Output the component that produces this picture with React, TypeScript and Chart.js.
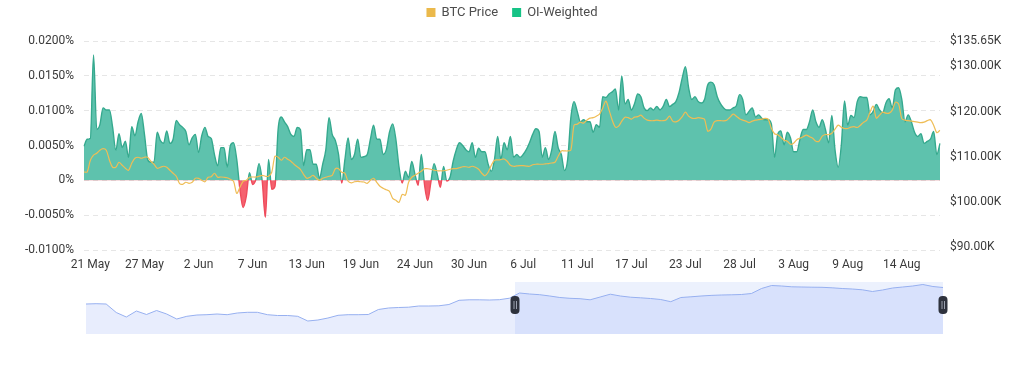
import React, { useEffect, useRef } from 'react';
import { Chart, registerables } from 'chart.js';

Chart.register(...registerables);

// ---------- data ----------
const START_UTC = Date.UTC(2025, 4, 21, 0, 0); // 21 May, 8-hour steps
const STEP_HOURS = 8;
const MONTHS = ['Jan', 'Feb', 'Mar', 'Apr', 'May', 'Jun', 'Jul', 'Aug', 'Sep', 'Oct', 'Nov', 'Dec'];

const TICK_LABELS = ['21 May', '27 May', '2 Jun', '7 Jun', '13 Jun', '19 Jun', '24 Jun', '30 Jun', '6 Jul', '11 Jul', '17 Jul', '23 Jul', '28 Jul', '3 Aug', '9 Aug', '14 Aug'];
const TICK_FIRST = 2;
const TICK_EVERY = 17;

// OI-weighted funding rate, in %
const OI_WEIGHTED = [
  0.0049, 0.0059, 0.0060, 0.0180, 0.0073, 0.0080, 0.0104, 0.0101, 0.0101, 0.0076,
  0.0043, 0.0067, 0.0047, 0.0056, 0.0033, 0.0077, 0.0064, 0.0084, 0.0096, 0.0066,
  0.0030, 0.0026, 0.0026, 0.0069, 0.0057, 0.0053, 0.0071, 0.0053, 0.0059, 0.0086,
  0.0080, 0.0076, 0.0070, 0.0051, 0.0061, 0.0066, 0.0040, 0.0064, 0.0076, 0.0063,
  0.0060, 0.0037, 0.0021, 0.0047, 0.0047, 0.0019, 0.0050, 0.0054, 0.0030, -0.0013,
  -0.0039, -0.0023, 0.0011, -0.0006, 0.0001, 0.0024, -0.0001, -0.0053, 0.0030, -0.0013,
  -0.0009, 0.0073, 0.0091, 0.0084, 0.0077, 0.0066, 0.0063, 0.0076, 0.0073, 0.0021,
  0.0044, 0.0044, 0.0023, 0.0023, 0.0003, 0.0023, 0.0044, 0.0090, 0.0066, 0.0057,
  0.0037, -0.0004, 0.0030, 0.0061, 0.0030, 0.0037, 0.0059, 0.0033, 0.0034, 0.0037,
  0.0059, 0.0079, 0.0059, 0.0059, 0.0037, 0.0044, 0.0069, 0.0081, 0.0059, 0.0019,
  -0.0004, 0.0013, 0.0004, 0.0027, 0.0009, -0.0007, 0.0037, -0.0006, -0.0029, -0.0003,
  0.0024, 0.0009, -0.0010, 0.0020, -0.0001, 0.0004, 0.0027, 0.0044, 0.0054, 0.0050,
  0.0044, 0.0041, 0.0054, 0.0033, 0.0046, 0.0041, 0.0041, 0.0023, 0.0013, 0.0030,
  0.0063, 0.0030, 0.0054, 0.0044, 0.0063, 0.0033, 0.0037, 0.0033, 0.0037, 0.0044,
  0.0054, 0.0066, 0.0074, 0.0070, 0.0033, 0.0047, 0.0030, 0.0044, 0.0070, 0.0047,
  0.0037, 0.0014, 0.0030, 0.0090, 0.0113, 0.0099, 0.0084, 0.0087, 0.0084, 0.0084,
  0.0069, 0.0080, 0.0076, 0.0120, 0.0119, 0.0124, 0.0127, 0.0131, 0.0101, 0.0150,
  0.0109, 0.0116, 0.0101, 0.0110, 0.0124, 0.0120, 0.0104, 0.0100, 0.0104, 0.0101,
  0.0106, 0.0101, 0.0106, 0.0116, 0.0106, 0.0109, 0.0113, 0.0126, 0.0147, 0.0163,
  0.0133, 0.0116, 0.0120, 0.0113, 0.0111, 0.0116, 0.0137, 0.0141, 0.0137, 0.0120,
  0.0110, 0.0104, 0.0101, 0.0101, 0.0104, 0.0107, 0.0123, 0.0116, 0.0094, 0.0099,
  0.0104, 0.0091, 0.0094, 0.0089, 0.0087, 0.0087, 0.0081, 0.0033, 0.0066, 0.0071,
  0.0051, 0.0069, 0.0061, 0.0041, 0.0041, 0.0059, 0.0073, 0.0073, 0.0084, 0.0101,
  0.0084, 0.0076, 0.0087, 0.0073, 0.0054, 0.0093, 0.0044, 0.0019, 0.0051, 0.0114,
  0.0079, 0.0093, 0.0090, 0.0113, 0.0120, 0.0119, 0.0119, 0.0094, 0.0099, 0.0109,
  0.0101, 0.0097, 0.0111, 0.0117, 0.0104, 0.0130, 0.0133, 0.0116, 0.0084, 0.0094,
  0.0084, 0.0069, 0.0063, 0.0067, 0.0053, 0.0056, 0.0059, 0.0070, 0.0037, 0.0053,
];

// BTC price, in thousands of USD
const BTC_PRICE = [
  106.60, 106.60, 109.20, 110.32, 110.76, 111.43, 111.76, 111.43, 109.20, 107.65,
  107.65, 108.76, 108.09, 107.43, 106.98, 108.54, 109.65, 109.87, 109.65, 109.87,
  109.87, 108.98, 108.32, 107.43, 107.65, 107.87, 107.65, 106.98, 106.32, 105.65,
  104.09, 103.87, 104.32, 104.09, 104.32, 105.20, 105.20, 104.76, 104.43, 105.43,
  105.54, 106.32, 105.43, 105.49, 105.43, 105.32, 104.98, 104.54, 101.87, 103.20,
  104.54, 104.76, 105.43, 105.49, 105.49, 105.65, 105.87, 105.65, 105.65, 106.54,
  110.09, 109.87, 109.20, 109.87, 109.43, 108.98, 108.32, 107.76, 107.20, 106.09,
  105.20, 105.43, 105.87, 105.20, 104.76, 105.20, 105.43, 105.65, 105.87, 107.32,
  107.32, 106.54, 106.32, 104.54, 104.20, 104.43, 104.54, 104.43, 104.38, 104.09,
  104.76, 105.20, 104.32, 103.43, 102.98, 102.65, 102.32, 100.76, 100.32, 99.87,
  101.65, 101.43, 104.32, 105.43, 105.87, 106.32, 106.76, 107.32, 107.32, 107.20,
  106.98, 106.87, 106.87, 106.87, 106.98, 107.20, 107.36, 107.36, 107.54, 107.76,
  107.76, 107.65, 107.87, 107.65, 107.20, 106.32, 105.76, 106.54, 108.09, 109.20,
  109.27, 109.36, 109.49, 108.98, 108.09, 107.87, 107.94, 108.00, 108.00, 107.92,
  107.87, 108.20, 108.32, 108.32, 108.32, 108.40, 108.47, 108.60, 108.76, 110.09,
  111.27, 111.27, 111.27, 111.43, 116.98, 117.20, 117.65, 117.43, 118.09, 118.54,
  118.65, 118.98, 119.43, 120.76, 122.32, 120.32, 118.09, 116.54, 116.76, 117.87,
  118.76, 118.65, 118.32, 118.76, 118.87, 119.20, 118.54, 118.09, 117.98, 117.98,
  118.09, 117.98, 117.98, 118.20, 118.98, 117.87, 117.72, 118.09, 118.87, 119.87,
  118.98, 118.54, 118.47, 118.65, 118.54, 118.32, 115.65, 116.09, 117.65, 117.98,
  117.98, 117.94, 118.09, 118.76, 119.43, 118.98, 118.43, 118.09, 117.87, 117.54,
  117.87, 118.09, 118.20, 118.32, 118.47, 118.32, 116.32, 115.09, 114.87, 114.32,
  113.65, 113.43, 112.76, 112.98, 113.76, 114.09, 114.43, 114.76, 114.43, 114.09,
  113.43, 113.43, 114.54, 114.92, 114.87, 115.20, 116.09, 116.98, 116.54, 116.25,
  116.25, 116.54, 116.65, 116.47, 116.98, 117.65, 118.09, 119.87, 121.20, 118.54,
  119.20, 119.87, 119.65, 119.65, 120.32, 122.09, 121.65, 118.43, 118.09, 117.98,
  117.87, 117.76, 117.65, 117.54, 117.65, 117.98, 118.20, 116.98, 115.32, 115.87,
];

const LEFT_MIN = -0.01;
const LEFT_MAX = 0.02;
const LEFT_STEP = 0.005;
const RIGHT_TICKS = [90, 100, 110, 120, 130, 135.65];
const RIGHT_MIN = 89.3;
const RIGHT_MAX = 135.65;

// navigator (overview) price, in thousands of USD
const NAV_PRICE = [
  108.0, 108.15, 108.0, 103.75, 101.5, 104.5, 102.75, 104.75, 103.0, 100.5,
  101.85, 102.5, 102.65, 103.0, 102.65, 103.5, 103.85, 103.85, 102.65, 102.25,
  102.25, 101.85, 99.5, 100.0, 101.0, 102.35, 102.65, 102.65, 102.75, 105.25,
  106.0, 106.25, 106.4, 107.0, 107.0, 107.1, 107.75, 109.85, 110.1, 110.1,
  110.0, 110.15, 110.9, 113.5, 113.0, 112.65, 112.0, 111.25, 110.85, 110.65,
  110.1, 111.5, 112.9, 112.0, 111.4, 111.1, 110.75, 110.25, 109.15, 111.25,
  111.6, 112.0, 112.3, 112.5, 112.6, 112.75, 113.25, 115.75, 117.25, 117.0,
  116.6, 116.5, 116.4, 116.35, 116.1, 115.75, 115.5, 115.1, 114.25, 115.0,
  116.0, 116.5, 117.0, 117.75, 116.75, 116.25,
];
const NAV_MIN = 93;
const NAV_MAX = 119;
const NAV_WINDOW = [42.55, 85];

// ---------- styles ----------
const FONT = 'Roboto, "Noto Sans", sans-serif';
const TEXT = '#3a3a3a';
const GRID = '#e6e6e6';
const GREEN_LINE = '#35a98e';
const GREEN_FILL = '#5ec2ad';
const RED_LINE = '#ef4b5c';
const RED_FILL = '#f5626f';
const YELLOW = '#efbd55';
const LEGEND_YELLOW = '#ebb94b';
const LEGEND_GREEN = '#16c386';

const CATEGORIES = OI_WEIGHTED.map((_, i) => {
  const d = new Date(START_UTC + i * STEP_HOURS * 3600 * 1000);
  return `${d.getUTCDate()} ${MONTHS[d.getUTCMonth()]} ${String(d.getUTCHours()).padStart(2, '0')}:00`;
});
const NAV_CATEGORIES = NAV_PRICE.map((_, i) => String(i));

function signedStroke(c: any) {
  const chart = c.chart;
  const ca = chart.chartArea;
  const ys = chart.scales && chart.scales.y;
  if (!ca || !ys) return GREEN_LINE;
  const y0 = ys.getPixelForValue(0);
  const f = Math.min(1, Math.max(0, (y0 - ca.top) / (ca.bottom - ca.top)));
  const g = chart.ctx.createLinearGradient(0, ca.top, 0, ca.bottom);
  g.addColorStop(0, GREEN_LINE);
  g.addColorStop(f, GREEN_LINE);
  g.addColorStop(f, RED_LINE);
  g.addColorStop(1, RED_LINE);
  return g;
}

const legendPlugin = {
  id: 'customLegend',
  afterDraw(chart: any) {
    const ctx = chart.ctx;
    const items = [
      { text: 'BTC Price', color: LEGEND_YELLOW },
      { text: 'OI-Weighted', color: LEGEND_GREEN },
    ];
    ctx.save();
    ctx.font = `13px ${FONT}`;
    const box = 9;
    const gap = 6;
    const spacing = 14;
    const widths = items.map((it) => ctx.measureText(it.text).width);
    const total = widths.reduce((a, w) => a + box + gap + w, 0) + spacing * (items.length - 1);
    let x = chart.width / 2 - total / 2;
    const cy = 12.5;
    items.forEach((it, k) => {
      ctx.fillStyle = it.color;
      ctx.fillRect(x, cy - box / 2, box, box);
      x += box + gap;
      ctx.fillStyle = '#4d4d4d';
      ctx.textBaseline = 'middle';
      ctx.textAlign = 'left';
      ctx.fillText(it.text, x, cy + 0.5);
      x += widths[k] + spacing;
    });
    ctx.restore();
  },
};

const navPlugin = {
  id: 'navWindow',
  beforeDatasetsDraw(chart: any) {
    const { ctx, chartArea } = chart;
    const xs = chart.scales.x;
    const x0 = xs.getPixelForValue(NAV_WINDOW[0]);
    const x1 = xs.getPixelForValue(NAV_WINDOW[1]);
    ctx.save();
    ctx.fillStyle = 'rgba(110,145,240,0.13)';
    ctx.fillRect(x0, chartArea.top, x1 - x0, chartArea.bottom - chartArea.top);
    ctx.restore();
  },
  afterDraw(chart: any) {
    const { ctx, chartArea } = chart;
    const xs = chart.scales.x;
    const cy = (chartArea.top + chartArea.bottom) / 2 - 3;
    NAV_WINDOW.forEach((v) => {
      const cx = xs.getPixelForValue(v);
      const w = 9;
      const h = 18;
      ctx.save();
      ctx.fillStyle = '#2e323d';
      ctx.beginPath();
      (ctx as any).roundRect(cx - w / 2, cy - h / 2, w, h, 4);
      ctx.fill();
      ctx.strokeStyle = '#9aa0ad';
      ctx.lineWidth = 1;
      ctx.beginPath();
      ctx.moveTo(cx - 1, cy - 4);
      ctx.lineTo(cx - 1, cy + 4);
      ctx.moveTo(cx + 1.5, cy - 4);
      ctx.lineTo(cx + 1.5, cy + 4);
      ctx.stroke();
      ctx.restore();
    });
  },
};

export default function App() {
  const mainRef = useRef<HTMLCanvasElement | null>(null);
  const navRef = useRef<HTMLCanvasElement | null>(null);

  useEffect(() => {
    Chart.defaults.font.family = FONT;
    Chart.defaults.color = TEXT;

    const main = new Chart(mainRef.current as HTMLCanvasElement, {
      type: 'line',
      data: {
        labels: CATEGORIES,
        datasets: [
          {
            label: 'BTC Price',
            data: BTC_PRICE,
            yAxisID: 'y1',
            borderColor: YELLOW,
            borderWidth: 1.2,
            pointRadius: 0,
            fill: false,
            tension: 0.3,
            order: 0,
          },
          {
            label: 'OI-Weighted',
            data: OI_WEIGHTED,
            yAxisID: 'y',
            borderColor: signedStroke,
            borderWidth: 1.4,
            pointRadius: 0,
            cubicInterpolationMode: 'monotone',
            fill: { target: 'origin', above: GREEN_FILL, below: RED_FILL },
            order: 1,
          },
        ],
      },
      options: {
        animation: false,
        responsive: false,
        maintainAspectRatio: false,
        layout: { padding: { top: 41, bottom: 0, left: 0, right: 0 } },
        plugins: { legend: { display: false }, tooltip: { enabled: false } },
        scales: {
          x: {
            type: 'category',
            grid: { display: false, drawTicks: false },
            border: { display: false },
            ticks: {
              autoSkip: false,
              maxRotation: 0,
              minRotation: 0,
              padding: 8,
              color: TEXT,
              font: { size: 12 },
              callback: (_v: any, index: number) => {
                const k = index - TICK_FIRST;
                if (k >= 0 && k % TICK_EVERY === 0 && k / TICK_EVERY < TICK_LABELS.length) {
                  return TICK_LABELS[k / TICK_EVERY];
                }
                return null;
              },
            },
            afterFit: (s: any) => {
              s.height = 30;
            },
          },
          y: {
            position: 'left',
            min: LEFT_MIN,
            max: LEFT_MAX,
            grid: { color: GRID, drawTicks: false },
            border: { display: false, dash: [5, 4] },
            ticks: {
              stepSize: LEFT_STEP,
              padding: 10,
              color: TEXT,
              font: { size: 12 },
              callback: (v: any) => (Math.abs(v) < 1e-9 ? '0%' : Number(v).toFixed(4) + '%'),
            },
            afterFit: (s: any) => {
              s.width = 84;
            },
          },
          y1: {
            position: 'right',
            min: RIGHT_MIN,
            max: RIGHT_MAX,
            grid: { display: false, drawTicks: false },
            border: { display: false },
            afterBuildTicks: (s: any) => {
              s.ticks = RIGHT_TICKS.map((v) => ({ value: v }));
            },
            ticks: {
              padding: 10,
              color: TEXT,
              font: { size: 12 },
              callback: (v: any) => '$' + Number(v).toFixed(2) + 'K',
            },
            afterFit: (s: any) => {
              s.width = 84;
            },
          },
        },
      },
      plugins: [legendPlugin],
    } as any);

    const nav = new Chart(navRef.current as HTMLCanvasElement, {
      type: 'line',
      data: {
        labels: NAV_CATEGORIES,
        datasets: [
          {
            data: NAV_PRICE,
            borderColor: '#97b0f0',
            borderWidth: 1,
            pointRadius: 0,
            tension: 0,
            fill: { target: 'start' },
            backgroundColor: 'rgba(110,145,240,0.16)',
          },
        ],
      },
      options: {
        animation: false,
        responsive: false,
        maintainAspectRatio: false,
        layout: { padding: { top: 2, bottom: 6, left: 86, right: 81 } },
        plugins: { legend: { display: false }, tooltip: { enabled: false } },
        scales: {
          x: { type: 'category', display: false },
          y: { display: false, min: NAV_MIN, max: NAV_MAX },
        },
      },
      plugins: [navPlugin],
    } as any);

    return () => {
      main.destroy();
      nav.destroy();
    };
  }, []);

  return (
    <div style={{ position: 'fixed', left: 0, top: 0, width: 1024, height: 366, background: '#fff' }}>
      <canvas ref={mainRef} width={1024} height={280} style={{ position: 'absolute', left: 0, top: 0 }} />
      <canvas ref={navRef} width={1024} height={60} style={{ position: 'absolute', left: 0, top: 280 }} />
    </div>
  );
}
